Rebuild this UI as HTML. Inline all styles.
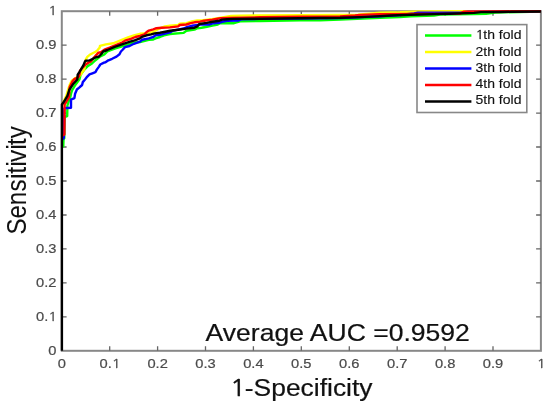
<!DOCTYPE html>
<html><head><meta charset="utf-8"><style>
html,body{margin:0;padding:0;background:#fff;}
body{width:550px;height:407px;overflow:hidden;}
svg{display:block;}
text{font-family:"Liberation Sans",Arial,Helvetica,sans-serif;}
.o{font-family:"NanumGothic","Liberation Sans",sans-serif;letter-spacing:-0.05em;stroke-width:0.022em;}
</style></head><body>
<svg width="550" height="407" viewBox="0 0 550 407">
<rect x="0" y="0" width="550" height="407" fill="#fff"/>

<rect x="61.8" y="11.2" width="479.1" height="339.6" fill="none" stroke="#888" stroke-width="2"/>
<path d="M109.7,350.8v-4.6M109.7,11.2v4.6M61.8,316.8h4.8M540.9,316.8h-4.8M157.6,350.8v-4.6M157.6,11.2v4.6M61.8,282.9h4.8M540.9,282.9h-4.8M205.5,350.8v-4.6M205.5,11.2v4.6M61.8,248.9h4.8M540.9,248.9h-4.8M253.4,350.8v-4.6M253.4,11.2v4.6M61.8,215.0h4.8M540.9,215.0h-4.8M301.3,350.8v-4.6M301.3,11.2v4.6M61.8,181.0h4.8M540.9,181.0h-4.8M349.3,350.8v-4.6M349.3,11.2v4.6M61.8,147.0h4.8M540.9,147.0h-4.8M397.2,350.8v-4.6M397.2,11.2v4.6M61.8,113.1h4.8M540.9,113.1h-4.8M445.1,350.8v-4.6M445.1,11.2v4.6M61.8,79.1h4.8M540.9,79.1h-4.8M493.0,350.8v-4.6M493.0,11.2v4.6M61.8,45.2h4.8M540.9,45.2h-4.8" stroke="#666" stroke-width="1.3" fill="none"/>
<polyline points="61.9,147.5 63.3,146.0 63.5,140.0 64.3,138.0 64.5,117.0 67.2,116.0 67.4,105.5 68.8,101.0 70.3,97.4 71.0,93.7 72.2,90.0 72.6,89.5 74.7,85.8 76.9,82.8 79.5,79.2 80.6,74.7 84.3,69.6 88.0,65.9 91.7,63.7 94.4,61.2 97.3,58.8 100.3,56.3 104.4,54.3 107.4,51.4 114.7,48.6 122.1,46.4 128.0,44.6 133.1,42.7 140.0,42.0 148.8,39.8 153.3,39.5 155.5,38.4 159.9,37.0 164.0,35.3 170.0,34.0 183.6,32.9 186.4,30.7 194.5,29.6 197.3,28.2 201.5,27.8 206.9,26.7 212.4,25.6 217.8,24.5 220.0,23.3 234.0,23.2 240.0,21.3 260.0,21.0 300.0,20.3 320.0,20.4 340.0,19.6 380.0,17.9 400.0,17.1 411.0,16.3 434.0,15.6 440.0,14.5 474.0,14.1 486.0,13.8 495.0,12.5 540.9,11.5" fill="none" stroke="#00ff00" stroke-width="2.4" stroke-linejoin="round"/>
<polyline points="61.9,105.0 64.0,100.8 66.4,95.5 67.8,90.5 69.6,85.0 71.8,80.6 74.7,78.4 78.4,76.9 80.6,74.7 82.1,72.5 84.3,69.6 85.3,62.5 85.6,59.8 87.3,56.8 89.7,54.8 92.6,53.3 95.6,51.8 97.9,49.8 99.7,47.5 100.0,45.8 105.9,44.4 113.3,43.3 120.6,40.3 128.0,37.4 133.9,35.5 140.0,33.8 144.0,33.4 148.8,33.1 152.0,32.2 155.0,31.0 157.5,29.5 161.0,27.8 165.0,26.4 170.0,25.8 178.2,25.0 179.8,23.6 186.4,23.1 191.8,21.5 197.3,20.5 203.0,20.3 212.0,19.2 221.0,17.6 231.0,16.0 240.0,15.6 300.0,15.3 340.0,14.9 358.0,14.6 380.0,12.6 400.0,12.3 420.0,11.4 460.0,11.1 540.9,11.2" fill="none" stroke="#ffff00" stroke-width="2.4" stroke-linejoin="round"/>
<polyline points="61.9,140.0 63.8,138.0 64.3,108.5 66.3,108.0 71.0,107.7 71.0,99.6 74.4,98.1 75.1,93.7 76.9,89.5 79.2,87.6 82.1,85.0 82.8,82.1 85.0,79.5 87.3,76.6 89.5,74.4 92.4,73.3 95.4,72.2 96.8,69.6 99.0,66.6 100.3,64.5 104.0,62.6 105.5,62.3 108.4,60.3 112.1,58.8 116.5,56.6 119.5,54.2 120.9,51.5 122.4,50.0 125.0,47.1 129.5,46.0 133.9,43.8 140.0,41.7 142.2,39.7 148.8,38.4 153.3,37.0 155.5,35.3 159.9,34.8 164.0,33.9 170.0,32.4 172.7,30.7 178.2,29.6 183.6,28.5 187.5,26.9 191.8,25.8 196.2,25.2 200.0,24.6 209.0,24.6 213.6,23.2 219.0,22.8 222.0,21.8 227.0,20.8 238.0,20.5 242.0,19.2 260.0,18.9 340.0,18.0 380.0,16.2 400.0,15.0 414.0,13.5 418.0,12.6 462.0,12.4 468.0,11.6 540.9,11.3" fill="none" stroke="#0000ff" stroke-width="2.4" stroke-linejoin="round"/>
<polyline points="61.9,136.0 64.4,134.5 64.6,104.4 65.9,102.5 68.8,97.4 69.2,94.4 69.6,87.3 72.5,81.4 74.7,78.8 78.4,77.3 79.5,74.7 79.9,71.0 82.1,68.1 85.8,64.4 88.0,62.9 90.9,61.4 93.2,58.6 96.2,55.1 98.5,52.7 101.0,52.2 104.4,49.6 109.6,47.7 114.7,45.5 122.1,42.5 125.8,40.3 130.9,38.8 135.4,37.0 140.0,36.0 144.4,34.4 147.1,31.7 148.8,30.6 153.3,29.3 156.4,28.2 161.8,27.7 170.0,27.4 178.2,26.4 179.8,25.0 186.4,24.5 190.7,23.1 194.5,22.3 200.0,21.6 204.2,20.7 212.4,19.6 218.9,18.5 221.0,18.2 227.6,17.9 242.0,17.6 260.0,17.3 300.0,16.8 340.0,16.4 355.0,15.5 360.0,14.9 380.0,14.3 420.0,14.0 460.0,13.6 464.0,11.6 511.0,11.2 540.9,11.3" fill="none" stroke="#ff0000" stroke-width="2.4" stroke-linejoin="round"/>
<polyline points="61.9,350.8 61.9,104.5 64.4,101.0 67.4,95.9 69.2,90.0 72.9,84.3 77.3,79.5 77.7,74.7 79.7,71.6 83.2,65.7 84.7,62.1 85.6,60.7 89.7,60.4 92.0,59.2 95.6,57.4 98.5,56.8 100.9,54.5 103.2,51.5 107.4,50.0 114.7,46.9 122.1,44.4 129.5,41.8 134.6,40.3 140.0,38.3 142.7,36.6 146.6,35.3 151.1,34.4 154.6,33.4 159.9,32.8 164.0,32.0 170.0,30.8 178.2,29.7 186.4,28.6 194.5,27.7 197.3,26.4 199.3,24.0 206.9,22.9 212.4,21.8 219.5,20.7 222.2,19.6 227.0,19.2 233.0,18.9 260.0,18.8 300.0,18.3 340.0,17.8 360.0,17.1 380.0,16.1 391.0,15.5 411.0,14.8 434.0,14.1 450.0,13.7 474.0,12.9 481.0,12.1 500.0,12.0 511.0,11.8 540.9,11.5" fill="none" stroke="#000" stroke-width="2.4" stroke-linejoin="round"/>
<text transform="translate(56.5,354.6) scale(1.13,1)" text-anchor="end" font-size="13" fill="#4a4a4a" stroke="#4a4a4a" stroke-width="0.2">0</text>
<text transform="translate(56.5,320.6) scale(1.13,1)" text-anchor="end" font-size="13" fill="#4a4a4a" stroke="#4a4a4a" stroke-width="0.2">0.<tspan class="o">1</tspan></text>
<text transform="translate(56.5,286.7) scale(1.13,1)" text-anchor="end" font-size="13" fill="#4a4a4a" stroke="#4a4a4a" stroke-width="0.2">0.2</text>
<text transform="translate(56.5,252.7) scale(1.13,1)" text-anchor="end" font-size="13" fill="#4a4a4a" stroke="#4a4a4a" stroke-width="0.2">0.3</text>
<text transform="translate(56.5,218.8) scale(1.13,1)" text-anchor="end" font-size="13" fill="#4a4a4a" stroke="#4a4a4a" stroke-width="0.2">0.4</text>
<text transform="translate(56.5,184.8) scale(1.13,1)" text-anchor="end" font-size="13" fill="#4a4a4a" stroke="#4a4a4a" stroke-width="0.2">0.5</text>
<text transform="translate(56.5,150.8) scale(1.13,1)" text-anchor="end" font-size="13" fill="#4a4a4a" stroke="#4a4a4a" stroke-width="0.2">0.6</text>
<text transform="translate(56.5,116.9) scale(1.13,1)" text-anchor="end" font-size="13" fill="#4a4a4a" stroke="#4a4a4a" stroke-width="0.2">0.7</text>
<text transform="translate(56.5,82.9) scale(1.13,1)" text-anchor="end" font-size="13" fill="#4a4a4a" stroke="#4a4a4a" stroke-width="0.2">0.8</text>
<text transform="translate(56.5,49.0) scale(1.13,1)" text-anchor="end" font-size="13" fill="#4a4a4a" stroke="#4a4a4a" stroke-width="0.2">0.9</text>
<text transform="translate(56.5,15.0) scale(1.13,1)" text-anchor="end" font-size="13" fill="#4a4a4a" stroke="#4a4a4a" stroke-width="0.2"><tspan class="o">1</tspan></text>
<text transform="translate(61.8,368.4) scale(1.13,1)" text-anchor="middle" font-size="13" fill="#4a4a4a" stroke="#4a4a4a" stroke-width="0.2">0</text>
<text transform="translate(109.7,368.4) scale(1.13,1)" text-anchor="middle" font-size="13" fill="#4a4a4a" stroke="#4a4a4a" stroke-width="0.2">0.<tspan class="o">1</tspan></text>
<text transform="translate(157.6,368.4) scale(1.13,1)" text-anchor="middle" font-size="13" fill="#4a4a4a" stroke="#4a4a4a" stroke-width="0.2">0.2</text>
<text transform="translate(205.5,368.4) scale(1.13,1)" text-anchor="middle" font-size="13" fill="#4a4a4a" stroke="#4a4a4a" stroke-width="0.2">0.3</text>
<text transform="translate(253.4,368.4) scale(1.13,1)" text-anchor="middle" font-size="13" fill="#4a4a4a" stroke="#4a4a4a" stroke-width="0.2">0.4</text>
<text transform="translate(301.3,368.4) scale(1.13,1)" text-anchor="middle" font-size="13" fill="#4a4a4a" stroke="#4a4a4a" stroke-width="0.2">0.5</text>
<text transform="translate(349.3,368.4) scale(1.13,1)" text-anchor="middle" font-size="13" fill="#4a4a4a" stroke="#4a4a4a" stroke-width="0.2">0.6</text>
<text transform="translate(397.2,368.4) scale(1.13,1)" text-anchor="middle" font-size="13" fill="#4a4a4a" stroke="#4a4a4a" stroke-width="0.2">0.7</text>
<text transform="translate(445.1,368.4) scale(1.13,1)" text-anchor="middle" font-size="13" fill="#4a4a4a" stroke="#4a4a4a" stroke-width="0.2">0.8</text>
<text transform="translate(493.0,368.4) scale(1.13,1)" text-anchor="middle" font-size="13" fill="#4a4a4a" stroke="#4a4a4a" stroke-width="0.2">0.9</text>
<text transform="translate(540.9,368.4) scale(1.13,1)" text-anchor="middle" font-size="13" fill="#4a4a4a" stroke="#4a4a4a" stroke-width="0.2"><tspan class="o">1</tspan></text>
<text transform="translate(301.3,396.4) scale(1.139,1)" text-anchor="middle" font-size="23.2" fill="#111" stroke="#111" stroke-width="0.2"><tspan class="o">1</tspan>-Specificity</text>
<text transform="translate(26.3,180.4) rotate(-90) scale(1,1.12)" text-anchor="middle" dx="0 0 0 0.3 0.9 -0.2 0.3 -0.6 0.5 -0.85 0.05" font-size="24.0" fill="#111" stroke="#111" stroke-width="0.05">Sensitivity</text>
<text transform="translate(205.6,341.2) scale(1.144,1)" font-size="23.2" fill="#111" stroke="#111" stroke-width="0.2">Average AUC =0.9592</text>
<rect x="417" y="24.6" width="109.8" height="87.9" fill="#fff" stroke="#888" stroke-width="1.6"/>
<line x1="425" y1="35.5" x2="471.4" y2="35.5" stroke="#00ff00" stroke-width="2.4"/>
<text transform="translate(475.5,39.45) scale(1.13,1)" font-size="12.4" fill="#111" stroke="#111" stroke-width="0.12"><tspan class="o">1</tspan>th fold</text>
<line x1="425" y1="52.0" x2="471.4" y2="52.0" stroke="#ffff00" stroke-width="2.4"/>
<text transform="translate(475.5,55.65) scale(1.13,1)" font-size="12.4" fill="#111" stroke="#111" stroke-width="0.12">2th fold</text>
<line x1="425" y1="68.5" x2="471.4" y2="68.5" stroke="#0000ff" stroke-width="2.4"/>
<text transform="translate(475.5,71.85) scale(1.13,1)" font-size="12.4" fill="#111" stroke="#111" stroke-width="0.12">3th fold</text>
<line x1="425" y1="85.0" x2="471.4" y2="85.0" stroke="#ff0000" stroke-width="2.4"/>
<text transform="translate(475.5,88.05) scale(1.13,1)" font-size="12.4" fill="#111" stroke="#111" stroke-width="0.12">4th fold</text>
<line x1="425" y1="101.5" x2="471.4" y2="101.5" stroke="#000" stroke-width="2.4"/>
<text transform="translate(475.5,104.25) scale(1.13,1)" font-size="12.4" fill="#111" stroke="#111" stroke-width="0.12">5th fold</text>
</svg>
</body></html>
